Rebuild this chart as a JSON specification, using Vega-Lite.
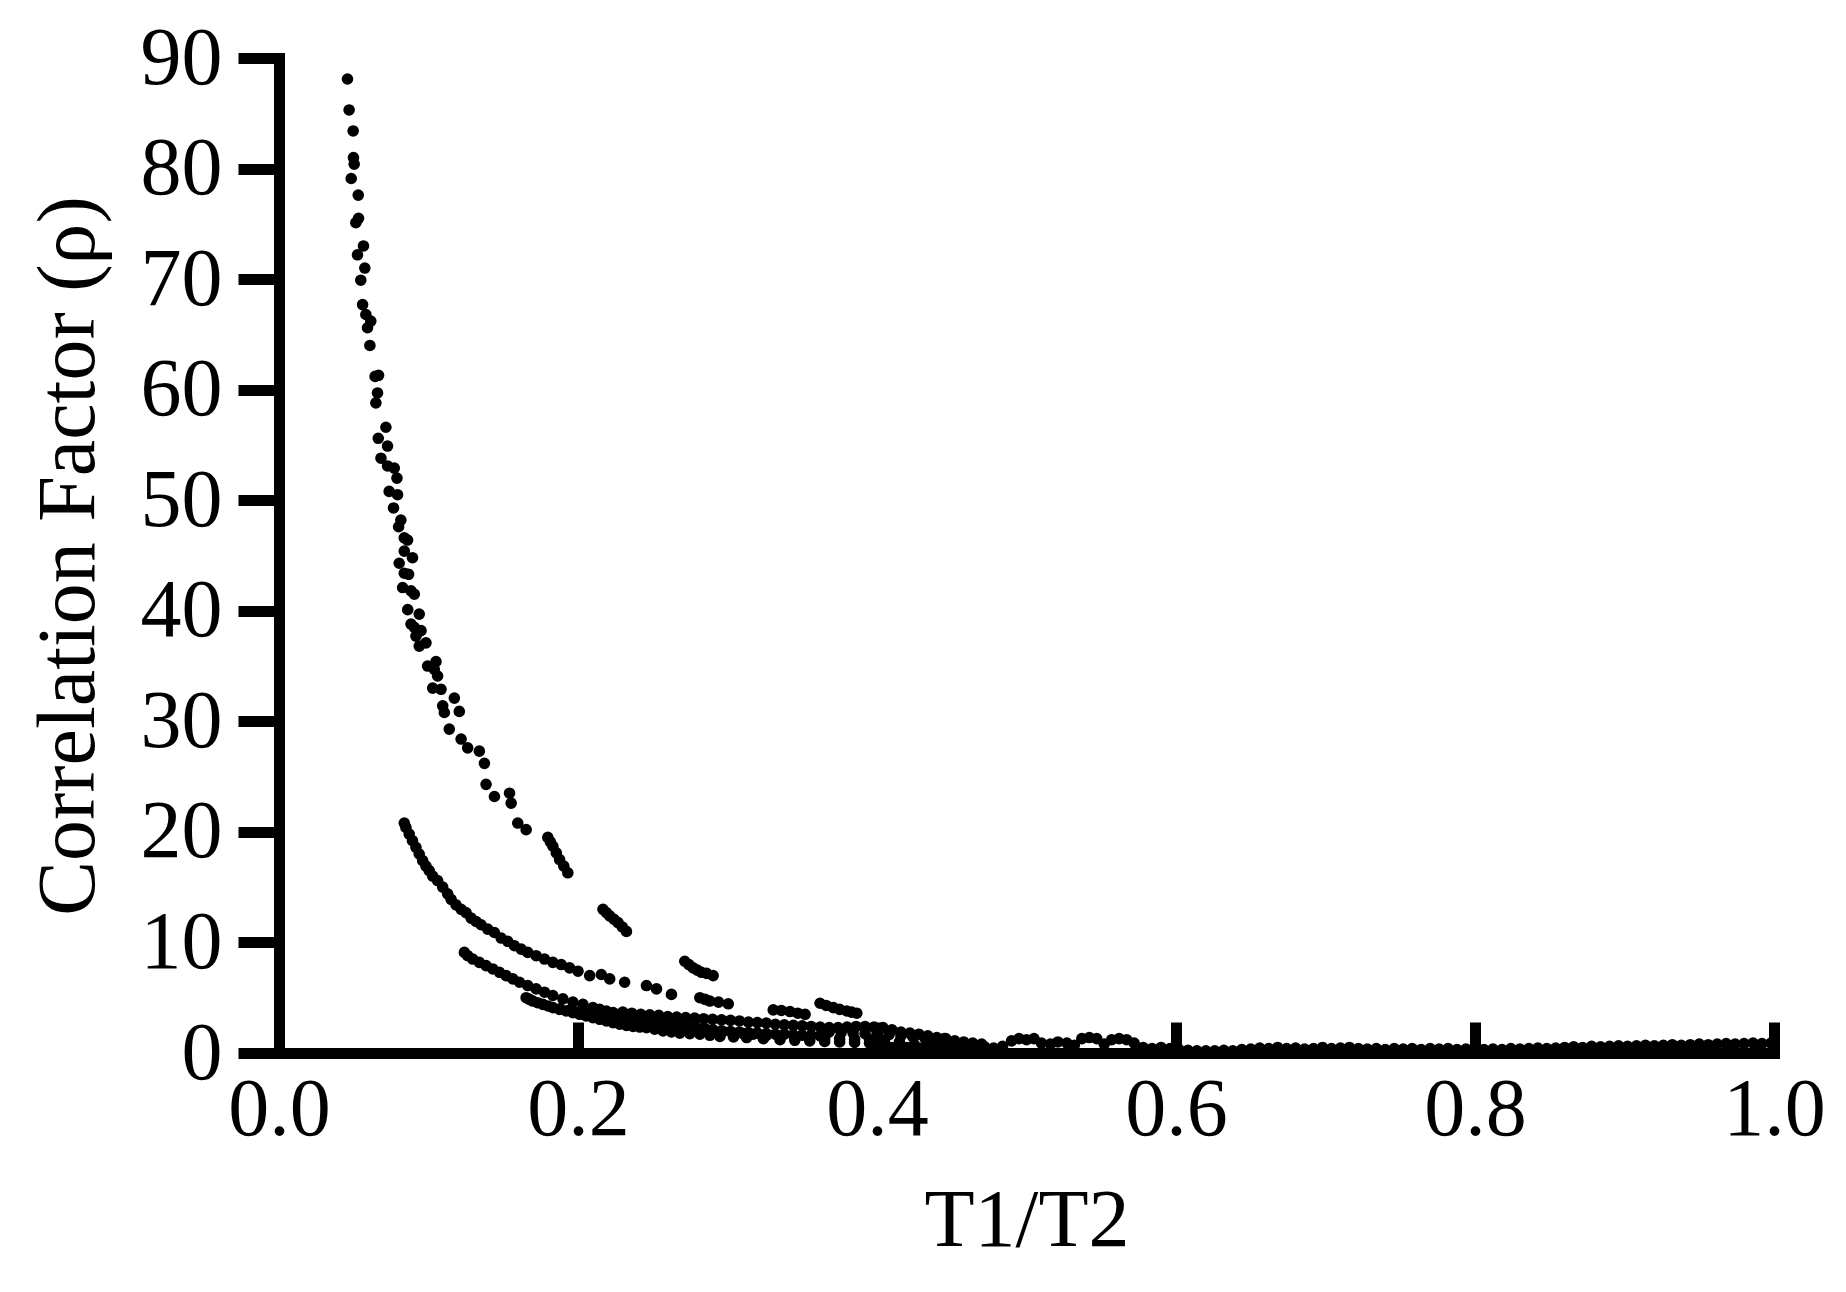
{
  "$schema": "https://vega.github.io/schema/vega-lite/v6.json",
  "description": "Scatter of correlation factor against T1/T2.",
  "width": 1495,
  "height": 995,
  "autosize": {"type": "none"},
  "padding": {"left": 279, "top": 58, "right": 72, "bottom": 239},
  "background": "white",
  "data": {
    "values": [
      {"x":0.0458,"y":88.1},{"x":0.0469,"y":85.3},{"x":0.0496,"y":83.4},{"x":0.0498,"y":81.0},{"x":0.0503,"y":80.4},
      {"x":0.0483,"y":79.1},{"x":0.0530,"y":77.6},{"x":0.0532,"y":75.5},{"x":0.0514,"y":75.1},{"x":0.0565,"y":73.0},
      {"x":0.0525,"y":72.2},{"x":0.0574,"y":71.0},{"x":0.0547,"y":69.9},{"x":0.0559,"y":67.7},{"x":0.0581,"y":66.8},
      {"x":0.0614,"y":66.2},{"x":0.0592,"y":65.6},{"x":0.0608,"y":64.0},{"x":0.0643,"y":61.2},{"x":0.0666,"y":61.3},
      {"x":0.0659,"y":59.7},{"x":0.0648,"y":58.8},{"x":0.0715,"y":56.6},{"x":0.0664,"y":55.6},{"x":0.0726,"y":54.9},
      {"x":0.0682,"y":53.8},{"x":0.0726,"y":53.1},{"x":0.0771,"y":52.9},{"x":0.0789,"y":52.0},{"x":0.0737,"y":50.8},
      {"x":0.0793,"y":50.5},{"x":0.0766,"y":49.3},{"x":0.0815,"y":48.2},{"x":0.0800,"y":47.6},{"x":0.0838,"y":46.6},
      {"x":0.0860,"y":46.4},{"x":0.0838,"y":45.4},{"x":0.0893,"y":44.8},{"x":0.0804,"y":44.3},{"x":0.0838,"y":43.4},
      {"x":0.0867,"y":43.3},{"x":0.0827,"y":42.1},{"x":0.0883,"y":41.8},{"x":0.0905,"y":41.5},{"x":0.0861,"y":40.1},
      {"x":0.0938,"y":39.7},{"x":0.0883,"y":38.8},{"x":0.0905,"y":38.5},{"x":0.0950,"y":38.2},{"x":0.0916,"y":37.7},
      {"x":0.0983,"y":37.1},{"x":0.0938,"y":36.8},{"x":0.1050,"y":35.4},{"x":0.0994,"y":35.0},{"x":0.1039,"y":34.7},
      {"x":0.1061,"y":34.1},{"x":0.1028,"y":33.0},{"x":0.1084,"y":32.9},{"x":0.1173,"y":32.1},{"x":0.1206,"y":30.9},
      {"x":0.1095,"y":31.4},{"x":0.1106,"y":30.8},{"x":0.1139,"y":29.3},{"x":0.1218,"y":28.4},{"x":0.1262,"y":27.6},
      {"x":0.1340,"y":27.3},{"x":0.1374,"y":26.2},{"x":0.1385,"y":24.3},{"x":0.1441,"y":23.2},{"x":0.1542,"y":23.5},
      {"x":0.1553,"y":22.6},{"x":0.1597,"y":20.8},{"x":0.1653,"y":20.2},{"x":0.1798,"y":19.5},{"x":0.1815,"y":19.1},
      {"x":0.1832,"y":18.7},{"x":0.1855,"y":18.1},{"x":0.1877,"y":17.5},{"x":0.1905,"y":16.9},{"x":0.1932,"y":16.3},
      {"x":0.2167,"y":13.0},{"x":0.2190,"y":12.7},{"x":0.2212,"y":12.4},{"x":0.2240,"y":12.1},{"x":0.2268,"y":11.8},
      {"x":0.2296,"y":11.4},{"x":0.2324,"y":11.0},{"x":0.2714,"y":8.3},{"x":0.2742,"y":8.0},{"x":0.2770,"y":7.7},
      {"x":0.2798,"y":7.5},{"x":0.2826,"y":7.3},{"x":0.2860,"y":7.2},{"x":0.2904,"y":7.0},
      {"x":0.3619,"y":4.5},{"x":0.3660,"y":4.3},{"x":0.3708,"y":4.1},{"x":0.3750,"y":3.95},{"x":0.3798,"y":3.8},
      {"x":0.3830,"y":3.7},{"x":0.3865,"y":3.6},

      {"x":0.0838,"y":20.8},{"x":0.0849,"y":20.4},{"x":0.0871,"y":19.8},{"x":0.0893,"y":19.2},{"x":0.0916,"y":18.6},
      {"x":0.0938,"y":18.0},{"x":0.0961,"y":17.4},{"x":0.0983,"y":16.9},{"x":0.1005,"y":16.5},{"x":0.1028,"y":16.0},
      {"x":0.1061,"y":15.6},{"x":0.1095,"y":15.0},{"x":0.1128,"y":14.4},{"x":0.1151,"y":13.9},{"x":0.1184,"y":13.4},
      {"x":0.1218,"y":13.0},{"x":0.1251,"y":12.7},{"x":0.1285,"y":12.2},{"x":0.1318,"y":11.9},{"x":0.1352,"y":11.6},
      {"x":0.1396,"y":11.2},{"x":0.1441,"y":10.9},{"x":0.1486,"y":10.4},{"x":0.1530,"y":10.1},{"x":0.1575,"y":9.7},
      {"x":0.1620,"y":9.4},{"x":0.1664,"y":9.1},{"x":0.1720,"y":8.8},{"x":0.1776,"y":8.5},{"x":0.1832,"y":8.2},
      {"x":0.1888,"y":8.0},{"x":0.1944,"y":7.7},{"x":0.2000,"y":7.4},{"x":0.2078,"y":7.0},{"x":0.2156,"y":7.1},
      {"x":0.2212,"y":6.7},{"x":0.2312,"y":6.4},{"x":0.2458,"y":6.1},{"x":0.2525,"y":5.8},{"x":0.2625,"y":5.3},
      {"x":0.2815,"y":5.0},{"x":0.2850,"y":4.85},{"x":0.2882,"y":4.7},{"x":0.2940,"y":4.6},{"x":0.3005,"y":4.45},
      {"x":0.3306,"y":3.9},{"x":0.3360,"y":3.85},{"x":0.3418,"y":3.75},{"x":0.3470,"y":3.6},{"x":0.3519,"y":3.5},

      {"x":0.1240,"y":9.1},{"x":0.1262,"y":8.8},{"x":0.1296,"y":8.5},{"x":0.1340,"y":8.2},{"x":0.1385,"y":7.9},
      {"x":0.1430,"y":7.6},{"x":0.1475,"y":7.3},{"x":0.1519,"y":7.0},{"x":0.1564,"y":6.7},{"x":0.1609,"y":6.4},
      {"x":0.1664,"y":6.1},{"x":0.1720,"y":5.8},{"x":0.1776,"y":5.5},{"x":0.1832,"y":5.2},{"x":0.1899,"y":4.9},
      {"x":0.1966,"y":4.6},{"x":0.2033,"y":4.4},{"x":0.2100,"y":4.1},{"x":0.2145,"y":3.95},{"x":0.2190,"y":3.8},
      {"x":0.2235,"y":3.65},{"x":0.2279,"y":3.5},{"x":0.2324,"y":3.4},{"x":0.2368,"y":3.3},{"x":0.2413,"y":3.15},
      {"x":0.2458,"y":3.0},{"x":0.2513,"y":2.85},{"x":0.2569,"y":2.7},{"x":0.2625,"y":2.55},{"x":0.2681,"y":2.4},
      {"x":0.2737,"y":2.35},{"x":0.2793,"y":2.3},{"x":0.2850,"y":2.2},{"x":0.2904,"y":2.1},{"x":0.2970,"y":1.95},
      {"x":0.3038,"y":1.8},{"x":0.3105,"y":1.75},{"x":0.3172,"y":1.7},{"x":0.3260,"y":1.6},{"x":0.3351,"y":1.5},
      {"x":0.345,"y":1.45},{"x":0.355,"y":1.4},{"x":0.365,"y":1.35},{"x":0.375,"y":1.3},{"x":0.385,"y":1.25},
      {"x":0.395,"y":1.2},{"x":0.405,"y":1.1},{"x":0.415,"y":1.0},

      {"x":0.1653,"y":5.0},{"x":0.1675,"y":4.85},{"x":0.1698,"y":4.7},{"x":0.1730,"y":4.55},{"x":0.1765,"y":4.4},
      {"x":0.1800,"y":4.25},{"x":0.1832,"y":4.1},{"x":0.1876,"y":3.95},{"x":0.1921,"y":3.8},{"x":0.1966,"y":3.65},
      {"x":0.2011,"y":3.5},{"x":0.2055,"y":3.35},{"x":0.2100,"y":3.2},{"x":0.2145,"y":3.05},{"x":0.2190,"y":2.9},
      {"x":0.2235,"y":2.75},{"x":0.2279,"y":2.6},{"x":0.2324,"y":2.5},{"x":0.2368,"y":2.4},{"x":0.2413,"y":2.35},
      {"x":0.2458,"y":2.3},{"x":0.2513,"y":2.15},{"x":0.2569,"y":2.0},{"x":0.2625,"y":1.9},{"x":0.2681,"y":1.8},
      {"x":0.2748,"y":1.75},{"x":0.2815,"y":1.7},{"x":0.2882,"y":1.6},{"x":0.2949,"y":1.5},{"x":0.3040,"y":1.45},
      {"x":0.3128,"y":1.4},{"x":0.3240,"y":1.3},{"x":0.3351,"y":1.2},{"x":0.345,"y":1.15},{"x":0.355,"y":1.1},
      {"x":0.365,"y":1.05},{"x":0.375,"y":1.0},{"x":0.385,"y":0.95},{"x":0.395,"y":0.9},{"x":0.405,"y":0.85},
      {"x":0.415,"y":0.8},{"x":0.425,"y":0.75},{"x":0.435,"y":0.7},{"x":0.445,"y":0.6},{"x":0.455,"y":0.55},

      {"x":0.230,"y":3.7},{"x":0.236,"y":3.6},{"x":0.242,"y":3.5},{"x":0.248,"y":3.45},{"x":0.254,"y":3.4},
      {"x":0.260,"y":3.3},{"x":0.266,"y":3.25},{"x":0.272,"y":3.2},{"x":0.278,"y":3.15},{"x":0.284,"y":3.1},
      {"x":0.290,"y":3.05},{"x":0.296,"y":3.0},{"x":0.302,"y":2.95},{"x":0.308,"y":2.9},{"x":0.314,"y":2.8},
      {"x":0.320,"y":2.75},{"x":0.326,"y":2.7},{"x":0.332,"y":2.6},{"x":0.338,"y":2.55},{"x":0.344,"y":2.5},
      {"x":0.350,"y":2.45},{"x":0.356,"y":2.4},{"x":0.362,"y":2.35},{"x":0.368,"y":2.3},{"x":0.374,"y":2.3},
      {"x":0.380,"y":2.35},{"x":0.386,"y":2.4},{"x":0.392,"y":2.4},{"x":0.398,"y":2.35},{"x":0.404,"y":2.3},
      {"x":0.410,"y":2.1},{"x":0.416,"y":1.9},{"x":0.422,"y":1.8},{"x":0.428,"y":1.7},{"x":0.434,"y":1.55},
      {"x":0.440,"y":1.4},{"x":0.446,"y":1.3},{"x":0.452,"y":1.1},{"x":0.458,"y":1.0},{"x":0.464,"y":0.9},
      {"x":0.470,"y":0.8},

      {"x":0.188,"y":4.0},{"x":0.194,"y":3.85},{"x":0.200,"y":3.7},{"x":0.206,"y":3.55},{"x":0.212,"y":3.4},
      {"x":0.218,"y":3.25},{"x":0.224,"y":3.1},{"x":0.230,"y":3.0},{"x":0.236,"y":2.85},{"x":0.242,"y":2.75},
      {"x":0.248,"y":2.65},{"x":0.254,"y":2.55},{"x":0.260,"y":2.45},{"x":0.266,"y":2.35},{"x":0.272,"y":2.25},
      {"x":0.278,"y":2.2},{"x":0.284,"y":2.1},{"x":0.290,"y":2.05},{"x":0.296,"y":2.0},{"x":0.302,"y":1.95},
      {"x":0.308,"y":1.9},{"x":0.314,"y":1.85},{"x":0.320,"y":1.8},{"x":0.326,"y":1.75},{"x":0.332,"y":1.7},
      {"x":0.338,"y":1.7},{"x":0.344,"y":1.65},{"x":0.350,"y":1.6},{"x":0.356,"y":1.6},{"x":0.362,"y":1.55},
      {"x":0.368,"y":1.9},{"x":0.376,"y":1.85},{"x":0.384,"y":1.8},{"x":0.392,"y":1.75},{"x":0.400,"y":1.7},
      {"x":0.408,"y":1.65},{"x":0.416,"y":1.55},{"x":0.424,"y":1.45},{"x":0.432,"y":1.35},{"x":0.440,"y":1.2},
      {"x":0.448,"y":1.0},
      {"x":0.400,"y":0.6},{"x":0.410,"y":0.5},{"x":0.420,"y":0.5},{"x":0.430,"y":0.45},{"x":0.440,"y":0.4},

      {"x":0.445,"y":1.3},{"x":0.450,"y":0.9},{"x":0.455,"y":0.6},{"x":0.460,"y":0.5},{"x":0.466,"y":0.4},
      {"x":0.472,"y":0.55},{"x":0.478,"y":0.45},{"x":0.484,"y":0.6},{"x":0.490,"y":1.1},{"x":0.495,"y":1.3},
      {"x":0.500,"y":1.2},{"x":0.505,"y":1.3},{"x":0.510,"y":0.9},{"x":0.516,"y":0.8},{"x":0.521,"y":1.0},
      {"x":0.527,"y":0.9},{"x":0.532,"y":0.7},{"x":0.537,"y":1.3},{"x":0.542,"y":1.4},{"x":0.547,"y":1.3},
      {"x":0.552,"y":0.8},{"x":0.557,"y":1.2},{"x":0.562,"y":1.3},{"x":0.567,"y":1.2},{"x":0.572,"y":0.9},
      {"x":0.578,"y":0.5},{"x":0.584,"y":0.4},{"x":0.590,"y":0.5},{"x":0.596,"y":0.4},{"x":0.602,"y":0.3},
      {"x":0.608,"y":0.25},{"x":0.614,"y":0.2},{"x":0.620,"y":0.2},{"x":0.626,"y":0.2},{"x":0.632,"y":0.25},
      {"x":0.638,"y":0.2},{"x":0.644,"y":0.3},{"x":0.650,"y":0.35},{"x":0.656,"y":0.45},{"x":0.662,"y":0.4},
      {"x":0.668,"y":0.5},{"x":0.674,"y":0.4},{"x":0.680,"y":0.45},{"x":0.686,"y":0.35},{"x":0.692,"y":0.4},
      {"x":0.698,"y":0.5},{"x":0.704,"y":0.4},{"x":0.710,"y":0.45},{"x":0.716,"y":0.5},{"x":0.722,"y":0.4},
      {"x":0.728,"y":0.35},{"x":0.734,"y":0.4},{"x":0.740,"y":0.3},{"x":0.746,"y":0.4},{"x":0.752,"y":0.35},
      {"x":0.758,"y":0.4},{"x":0.764,"y":0.3},{"x":0.770,"y":0.4},{"x":0.776,"y":0.35},{"x":0.782,"y":0.4},
      {"x":0.788,"y":0.3},{"x":0.794,"y":0.35},{"x":0.800,"y":0.3},{"x":0.806,"y":0.3},{"x":0.812,"y":0.35},
      {"x":0.818,"y":0.3},{"x":0.824,"y":0.4},{"x":0.830,"y":0.35},{"x":0.836,"y":0.4},{"x":0.842,"y":0.45},
      {"x":0.848,"y":0.4},{"x":0.854,"y":0.45},{"x":0.860,"y":0.5},{"x":0.866,"y":0.55},{"x":0.872,"y":0.5},
      {"x":0.878,"y":0.6},{"x":0.884,"y":0.55},{"x":0.890,"y":0.6},{"x":0.896,"y":0.65},{"x":0.902,"y":0.6},
      {"x":0.908,"y":0.65},{"x":0.914,"y":0.7},{"x":0.920,"y":0.65},{"x":0.926,"y":0.7},{"x":0.932,"y":0.75},
      {"x":0.938,"y":0.7},{"x":0.944,"y":0.75},{"x":0.950,"y":0.8},{"x":0.956,"y":0.75},{"x":0.962,"y":0.8},
      {"x":0.968,"y":0.85},{"x":0.974,"y":0.8},{"x":0.980,"y":0.85},{"x":0.986,"y":0.9},{"x":0.992,"y":0.85},
      {"x":0.998,"y":0.9},
      {"x":0.870,"y":0.3},{"x":0.890,"y":0.3},{"x":0.910,"y":0.35},{"x":0.930,"y":0.35},{"x":0.950,"y":0.4},
      {"x":0.970,"y":0.4},{"x":0.990,"y":0.45}
    ]
  },
  "mark": {"type": "point", "filled": true, "shape": "circle", "size": 135, "color": "black", "opacity": 1},
  "encoding": {
    "x": {
      "field": "x",
      "type": "quantitative",
      "scale": {"domain": [0, 1], "nice": false},
      "axis": {
        "title": "T1/T2",
        "values": [0, 0.2, 0.4, 0.6, 0.8, 1],
        "format": ".1f",
        "tickSize": -31,
        "labelPadding": 47,
        "titlePadding": 30,
        "labelFlush": false
      }
    },
    "y": {
      "field": "y",
      "type": "quantitative",
      "scale": {"domain": [0, 90], "nice": false},
      "axis": {
        "title": "Correlation Factor (ρ)",
        "values": [0, 10, 20, 30, 40, 50, 60, 70, 80, 90],
        "tickSize": 41,
        "labelPadding": 16,
        "titlePadding": 30
      }
    }
  },
  "config": {
    "view": {"stroke": null},
    "axis": {
      "grid": false,
      "domainColor": "black",
      "domainWidth": 11,
      "domainCap": "square",
      "tickColor": "black",
      "tickWidth": 11,
      "labelFont": "Liberation Serif",
      "labelFontSize": 82,
      "labelColor": "black",
      "labelOverlap": false,
      "labelBound": false,
      "titleFont": "Liberation Serif",
      "titleFontSize": 82,
      "titleFontWeight": "normal",
      "titleColor": "black"
    }
  }
}
